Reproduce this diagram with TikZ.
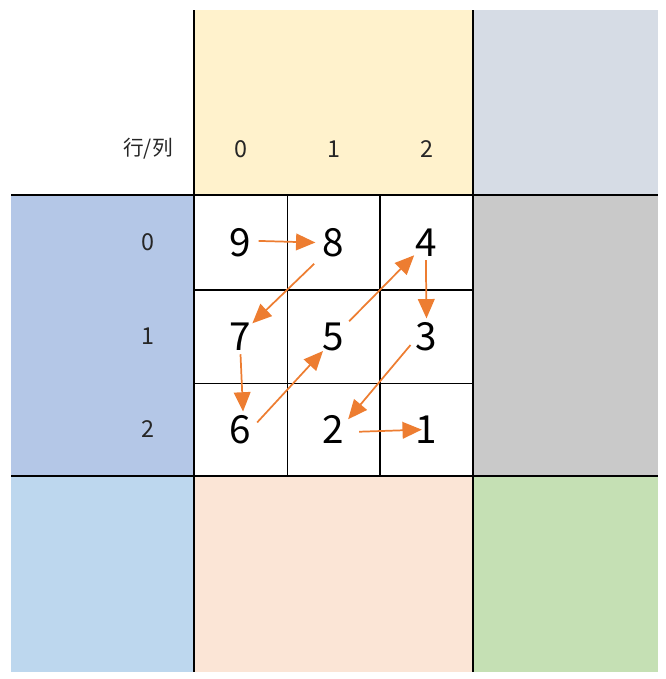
\documentclass[tikz,border=0pt]{standalone}
\usepackage{fontspec}
\setmainfont{Noto Sans CJK SC}
\usetikzlibrary{arrows.meta}
\definecolor{headyellow}{HTML}{FFF2CC}
\definecolor{cornergray}{HTML}{D6DCE5}
\definecolor{rowblue}{HTML}{B4C7E7}
\definecolor{sidegray}{HTML}{C9C9C9}
\definecolor{footblue}{HTML}{BDD7EE}
\definecolor{footpeach}{HTML}{FBE5D6}
\definecolor{footgreen}{HTML}{C5E0B4}
\definecolor{pathorange}{HTML}{ED7D31}

\begin{document}
\begin{tikzpicture}[x=0.75pt,y=-0.75pt,
	num node/.style={circle,minimum size=24pt,inner sep=0pt,font=\fontsize{29}{34}\selectfont},
	label node/.style={inner sep=0pt,font=\fontsize{15.5}{18}\selectfont,text=black!85},
	digit label/.style={label node,font=\fontsize{17.5}{20}\selectfont},
	thick line/.style={line width=1.1pt},
	mid line/.style={line width=0.8pt},
	thin line/.style={line width=0.6pt},
	move arrow/.style={draw,-{Triangle[length=14.5pt,width=12.5pt]},color=pathorange,line width=1.3pt}]

	\useasboundingbox (0,0) rectangle (666,679);

	% colour blocks
	\fill[headyellow] (194,10) rectangle (473,195);
	\fill[cornergray] (473,10) rectangle (658,195);
	\fill[rowblue] (11,195) rectangle (194,476);
	\fill[sidegray] (473,195) rectangle (658,476);
	\fill[footblue] (11,476) rectangle (194,672);
	\fill[footpeach] (194,476) rectangle (473,672);
	\fill[footgreen] (473,476) rectangle (658,672);

	% grid lines
	\draw[mid line] (194,10) -- (194,672);
	\draw[mid line] (473,10) -- (473,672);
	\draw[thick line] (11,195) -- (658,195);
	\draw[thick line] (11,476) -- (658,476);
	\draw[thin line] (287,195) -- (287,476);
	\draw[thick line] (380,195) -- (380,476);
	\draw[thick line] (194,290) -- (473,290);
	\draw[thin line] (194,383) -- (473,383);

	% headers
	\node[label node] (corner) at (148,149) {行/列};
	\foreach \i/\x in {0/240.5,1/333.5,2/426.5}
		\node[digit label] (col\i) at (\x,149) {\i};
	\foreach \i/\y in {0/242.5,1/336.5,2/429.5}
		\node[digit label] (row\i) at (148,\y) {\i};

	% numbers
	\node[num node] (n9) at (240.5,242.5) {9};
	\node[num node] (n8) at (333.5,242.5) {8};
	\node[num node] (n4) at (426.5,242.5) {4};
	\node[num node] (n7) at (240.5,336.5) {7};
	\node[num node] (n5) at (333.5,336.5) {5};
	\node[num node] (n3) at (426.5,336.5) {3};
	\node[num node] (n6) at (240.5,429.5) {6};
	\node[num node] (n2) at (333.5,429.5) {2};
	\node[num node] (n1) at (426.5,429.5) {1};

	\path[every edge/.style={move arrow}]
	(n9.5) edge (n8.180)
	(n8.230) edge [shorten <=8pt] (n7.48)
	(n7.270) edge (n6.82)
	(n6.23) edge (n5.234)
	(n5.44) edge [shorten <=3pt] (n4.226)
	(n4.268) edge (n3.90)
	(n3.208) edge (n2.35)
	(n2.352) edge [shorten <=6pt,shorten >=3.5pt] (n1.center)
;
\end{tikzpicture}
\end{document}
